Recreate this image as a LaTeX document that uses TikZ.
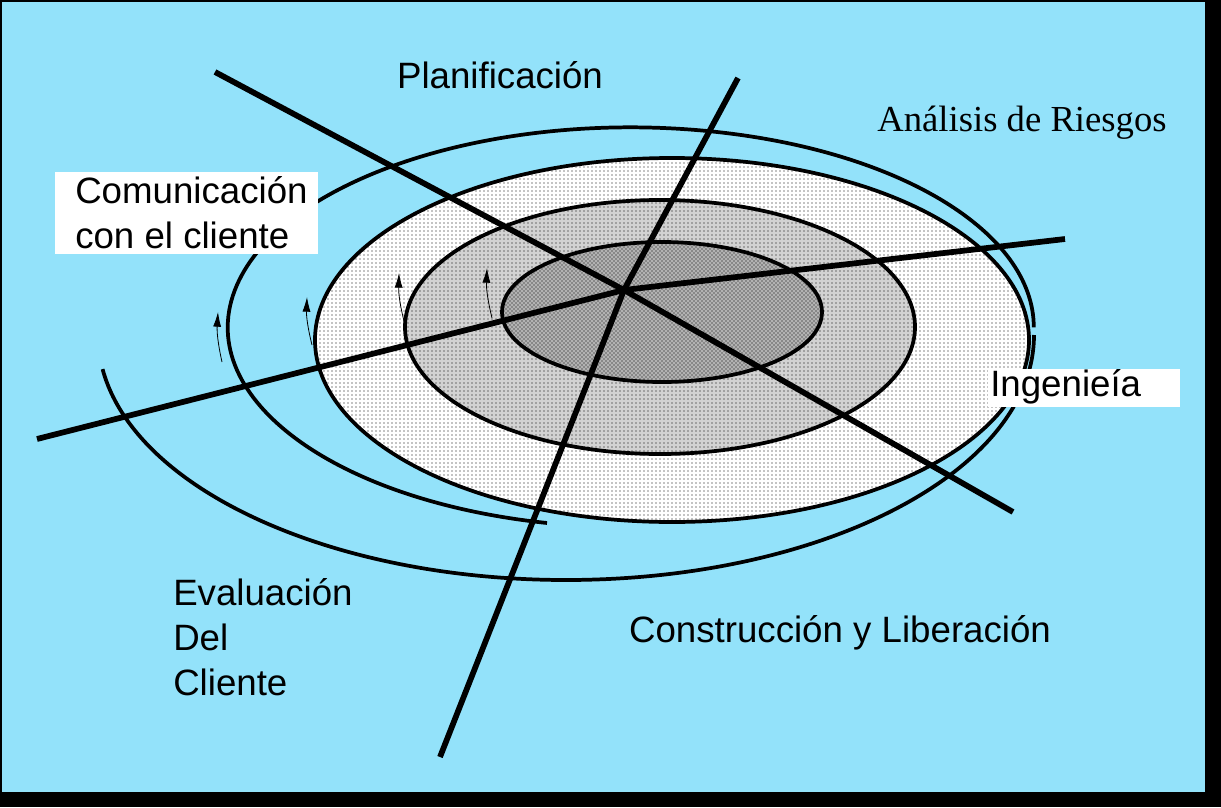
\documentclass[tikz,border=0pt]{standalone}
\usepackage{fontspec}
\setmainfont{Liberation Sans}
\newfontfamily\timesf{Liberation Serif}
\usetikzlibrary{patterns,arrows.meta}
\definecolor{skyb}{RGB}{147,226,250}
\begin{document}
\begin{tikzpicture}[x=0.75pt,y=-0.75pt,
  ring/.style={line width=2.8pt},
  axis/.style={line width=4.3pt,line join=miter},
  small/.style={line width=0.6pt,-{Latex[length=11pt,width=6pt]}},
  lbl/.style={font=\fontsize{27.5}{34}\selectfont,inner sep=0pt},
  wbox/.style={fill=white,inner sep=0pt,anchor=north west}]
\useasboundingbox (0,0) rectangle (1221,807);
\fill[black] (0,0) rectangle (1221,807);
\fill[skyb] (2,2) rectangle (1205,792);
% rings
\filldraw[ring,fill=white] (672,340) ellipse [x radius=357,y radius=182];
\fill[pattern=dots] (672,340) ellipse [x radius=357,y radius=182];
\filldraw[ring,fill=gray!35] (660,327) ellipse [x radius=255,y radius=127];
\fill[pattern=dots] (660,327) ellipse [x radius=255,y radius=127];
\filldraw[ring,fill=gray!60] (662,312) ellipse [x radius=160,y radius=70];
\fill[pattern=crosshatch dots] (662,312) ellipse [x radius=160,y radius=70];
% outer spiral
\draw[ring] (547,523) arc[start angle=102,end angle=360,x radius=403,y radius=200];
\draw[ring] (1034,335) arc[start angle=0,end angle=172,x radius=468,y radius=245];
% axes
\coordinate (c) at (624,290);
\coordinate (a1) at (215,72); \coordinate (b1) at (1013,512);
\coordinate (a2) at (440,757); \coordinate (b2) at (738,78);
\coordinate (a3) at (37,439); \coordinate (b3) at (1065,239);
\draw[axis] (a1) -- (c) -- (b1);
\draw[axis] (a2) -- (c) -- (b2);
\draw[axis] (a3) -- (c) -- (b3);
% small arrows
\coordinate (s1) at (222,362); \coordinate (e1) at (218,312);
\coordinate (s2) at (312,345); \coordinate (e2) at (307,297);
\coordinate (s3) at (405,325); \coordinate (e3) at (399,273);
\coordinate (s4) at (492,318); \coordinate (e4) at (487,268);
\draw[small] (s1) to[bend left=8] (e1);
\draw[small] (s2) to[bend left=8] (e2);
\draw[small] (s3) to[bend left=8] (e3);
\draw[small] (s4) to[bend left=8] (e4);
% labels
\node[lbl] (plan) at (500,75) {Planificación};
\node[lbl,font=\timesf\fontsize{27.5}{32}\selectfont] (ar) at (1022,123) {Análisis de Riesgos};
\node[wbox,minimum width=197pt,minimum height=61pt] (cbox) at (55,172) {};
\node[lbl,anchor=north west,align=left] (com) at (75,176) {Comunicación\\con el cliente};
\node[wbox,minimum width=144pt,minimum height=28pt] (ibox) at (988,369) {};
\node[lbl,anchor=west] (ing) at (990,387) {Ingenieía};
\node[lbl,anchor=north west,align=left] (ev) at (173,578) {Evaluación\\Del\\Cliente};
\node[lbl] (cons) at (840,633) {Construcción y Liberación};
\end{tikzpicture}
\end{document}
